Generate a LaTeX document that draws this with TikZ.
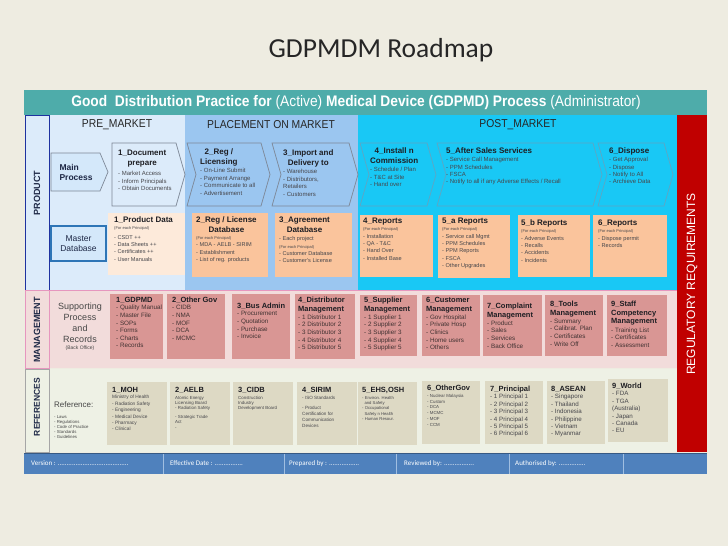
\documentclass[tikz,border=0pt]{standalone}
\usepackage{fontspec}
\setmainfont{Liberation Sans}
\newfontfamily\narrowfont[FakeStretch=0.9]{Liberation Sans}
\newfontfamily\calibfont{Carlito}
\usetikzlibrary{positioning}

\definecolor{slidebg}{RGB}{238,236,225}
\definecolor{hdteal}{RGB}{78,172,170}
\definecolor{prebg}{RGB}{220,235,250}
\definecolor{placebg}{RGB}{155,198,240}
\definecolor{postbg}{RGB}{25,200,245}
\definecolor{regred}{RGB}{192,0,0}
\definecolor{mgmtbg}{RGB}{242,220,219}
\definecolor{mgmtbox}{RGB}{217,150,148}
\definecolor{mgmtline}{RGB}{230,150,190}
\definecolor{refbg}{RGB}{238,241,229}
\definecolor{refboxbg}{RGB}{221,217,196}
\definecolor{peach}{RGB}{250,196,156}
\definecolor{palepeach}{RGB}{253,234,218}
\definecolor{footblue}{RGB}{79,129,189}
\definecolor{footline}{RGB}{160,190,225}
\definecolor{chevgrey}{RGB}{125,135,150}
\definecolor{postline}{RGB}{95,165,195}
\definecolor{mainfill}{RGB}{212,232,250}
\definecolor{dbline}{RGB}{46,117,182}
\definecolor{prodline}{RGB}{30,50,160}
\definecolor{navytext}{RGB}{30,40,70}
\definecolor{titletext}{RGB}{30,30,35}
\definecolor{itemgrey}{RGB}{70,70,75}
\definecolor{mgtext}{RGB}{65,50,50}
\definecolor{suptext}{RGB}{70,70,70}

\tikzset{
  chev/.style = {draw=chevgrey, line width=0.7pt},
  panel/.style = {anchor=north west, inner sep=0pt, outer sep=0pt, draw=none},
  txt/.style = {anchor=north west, align=left, inner sep=0pt, text=itemgrey},
  item/.style = {txt, font=\fontsize{6}{7.4}\selectfont},
  dbitem/.style = {txt, font=\fontsize{5.6}{7.4}\selectfont},
  mgitem/.style = {txt, font=\fontsize{6.3}{7.6}\selectfont, text=mgtext},
  refitem/.style = {txt, font=\fontsize{4.4}{5.3}\selectfont},
  bigref/.style = {txt, font=\fontsize{6.2}{7.4}\selectfont},
  phase/.style = {font=\narrowfont\fontsize{11.5}{12}\selectfont, text=black!85},
  sidelbl/.style = {rotate=90, font=\bfseries\fontsize{9}{9}\selectfont, text=navytext},
  foot/.style = {anchor=west, inner sep=0pt, font=\calibfont\fontsize{7}{7}\selectfont, text=white}
}

\newcommand\ttl[1]{{\fontsize{8}{10.2}\selectfont\bfseries\color{titletext}\begin{tabular}{@{}c@{}}#1\end{tabular}}}
\newcommand\mttl[1]{{\fontsize{7.5}{8.8}\selectfont\bfseries\color{titletext}\begin{tabular}{@{}l@{}}#1\end{tabular}}}
\newcommand\rttl[1]{{\fontsize{7.5}{9}\selectfont\bfseries\color{titletext}\begin{tabular}{@{}l@{}}#1\end{tabular}}}
\newcommand\fep{{\fontsize{4}{5}\selectfont(For each Principal)}}

\begin{document}
\begin{tikzpicture}[x=1pt, y=-1pt]
	\def\ct{143}   % chevron top
	\def\cb{206}   % chevron bottom
	\def\cm{174.5} % chevron middle

	\useasboundingbox (0,0) rectangle (728,546);
	\fill[slidebg] (0,0) rectangle (728,546);

	% Title
	\node[font=\calibfont\fontsize{27.5}{28}\selectfont, text=black!85] (title) at (381,50) {GDPMDM Roadmap};

	% Header bar
	\fill[hdteal] (24,90) rectangle (707,115);
	\node[font=\narrowfont\fontsize{15.3}{16}\selectfont, text=white] (header) at (356,102.5)
		{\textbf{Good\ \ Distribution Practice for} (Active) \textbf{Medical Device (GDPMD) Process} (Administrator)};

	% Phase bands
	\fill[prebg]   (49,115)  rectangle (185,290);
	\fill[placebg] (185,115) rectangle (358,290);
	\fill[postbg]  (358,115) rectangle (677,290);
	\node[phase] (pre)   at (117,125) {PRE\_MARKET};
	\node[phase] (place) at (271,125) {PLACEMENT ON MARKET};
	\node[phase] (post)  at (518,125) {POST\_MARKET};

	% Regulatory bar
	\fill[regred] (677,115) rectangle (707,452);
	\node[rotate=90, font=\fontsize{12}{12}\selectfont, text=white] (regreq) at (692,284) {REGULATORY REQUIREMENTS};

	% Row frames
	\draw[prodline, fill=prebg, line width=1pt] (25,115) rectangle (49,290);
	\fill[mgmtbg] (25,290) rectangle (677,368);
	\draw[mgmtline, line width=0.8pt] (25,290) -- (677,290);
	\draw[mgmtline, fill=mgmtbg, line width=0.8pt] (25,290) rectangle (49,368);
	\fill[refbg] (25,369) rectangle (677,452);
	\draw[gray!70, line width=0.8pt] (25,369) rectangle (49,452);
	\node[sidelbl] (prodlbl) at (37,193) {PRODUCT};
	\node[sidelbl] (mgmtlbl) at (37,330) {MANAGEMENT};
	\node[sidelbl, font=\bfseries\fontsize{8.5}{9}\selectfont] (reflbl) at (37,407) {REFERENCES};

	% Main process
	\draw[chev, fill=mainfill] (51,153) -- (100,153) -- (108,172) -- (100,191) -- (51,191) -- cycle;
	\node[anchor=west, align=left, font=\bfseries\fontsize{8.5}{10}\selectfont, text=navytext] (mainproc) at (56,172) {Main\\Process};

	\draw[chev, fill=prebg] (112,\ct) -- (176,\ct) -- (185,\cm) -- (176,\cb) -- (112,\cb) -- cycle;
	\node[item] (docprep) at (118,148) {\ttl{1\_Document\\prepare}\\[2pt]- Market Access\\- Inform Principals\\- Obtain Documents};

	\draw[chev, fill=placebg] (187,\ct) -- (261,\ct) -- (270,\cm) -- (261,\cb) -- (187,\cb) -- (196,\cm) -- cycle;
	\node[item] (reglic) at (200,147) {\ttl{2\_Reg /\\Licensing}\\- On-Line Submit\\- Payment Arrange\\- Communicate to all\\- Advertisement};

	\draw[chev, fill=placebg] (272,\ct) -- (349,\ct) -- (358,\cm) -- (349,\cb) -- (272,\cb) -- (281,\cm) -- cycle;
	\node[item] (import) at (283,148) {\ttl{3\_Import and\\Delivery to}\\- Warehouse\\- Distributors,\\Retailers\\- Customers};

	\draw[chev, draw=postline, fill=postbg] (360,\ct) -- (427,\ct) -- (436,\cm) -- (427,\cb) -- (360,\cb) -- (369,\cm) -- cycle;
	\node[item] (install) at (370,146) {\ttl{4\_Install n\\Commission}\\- Schedule / Plan\\- T\&C at Site\\- Hand over};

	\draw[chev, draw=postline, fill=postbg] (437,\ct) -- (593,\ct) -- (602,\cm) -- (593,\cb) -- (437,\cb) -- (446,\cm) -- cycle;
	\node[item] (aftersales) at (446,146) {\ttl{5\_After Sales Services}\\- Service Call Management\\- PPM Schedules\\- FSCA\\- Notify to all if any Adverse Effects / Recall};

	\draw[chev, draw=postline, fill=postbg] (598,\ct) -- (664,\ct) -- (673,\cm) -- (664,\cb) -- (598,\cb) -- (607,\cm) -- cycle;
	\node[item] (dispose) at (609,146) {\ttl{6\_Dispose}\\- Get Approval\\- Dispose\\- Notify to All\\- Archieve Data};

	% Master database
	\node[panel, draw=dbline, line width=1.5pt, fill=mainfill, minimum width=55pt, minimum height=35pt,
		align=center, font=\fontsize{8.5}{10}\selectfont, text=navytext] (masterdb) at (51,226) {Master\\Database};

	\node[panel, fill=palepeach, minimum width=77pt, minimum height=62pt] (proddata) at (108,213) {};
	\node[dbitem] (proddataT) at (114,215) {\ttl{1\_Product Data}\\\fep\\[2pt]- CSDT ++\\- Data Sheets ++\\- Certificates ++\\- User Manuals};

	\node[panel, fill=peach, minimum width=76pt, minimum height=64pt] (regdb) at (192,213) {};
	\node[dbitem] (regdbT) at (196,215) {\ttl{2\_Reg / License\\Database}\\\fep\\- MDA - AELB - SIRIM\\- Establishment\\- List of reg. products};

	\node[panel, fill=peach, minimum width=77pt, minimum height=64pt] (agrdb) at (275,213) {};
	\node[dbitem] (agrdbT) at (279,215) {\ttl{3\_Agreement\\Database}\\- Each project\\\fep\\- Customer Database\\- Customer's License};

	\node[panel, fill=peach, minimum width=73pt, minimum height=62pt] (rep4) at (360,215) {};
	\node[dbitem] (rep4T) at (363,216) {\ttl{4\_Reports}\\\fep\\- Installation\\- QA - T\&C\\- Hand Over\\- Installed Base};

	\node[panel, fill=peach, minimum width=72pt, minimum height=63pt] (rep5a) at (438,215) {};
	\node[dbitem] (rep5aT) at (442,216) {\ttl{5\_a Reports}\\\fep\\- Service call Mgmt\\- PPM Schedules\\- PPM Reports\\- FSCA\\- Other Upgrades};

	\node[panel, fill=peach, minimum width=72pt, minimum height=62pt] (rep5b) at (518,215) {};
	\node[dbitem] (rep5bT) at (521,218) {\ttl{5\_b Reports}\\\fep\\- Adverse Events\\- Recalls\\- Accidents\\- Incidents};

	\node[panel, fill=peach, minimum width=74pt, minimum height=62pt] (rep6) at (593,215) {};
	\node[dbitem] (rep6T) at (598,218) {\ttl{6\_Reports}\\\fep\\- Dispose permit\\- Records};

	% Management
	\node[align=center, anchor=north, inner sep=0pt, font=\fontsize{9}{11}\selectfont, text=suptext] (support) at (80,303)
		{Supporting\\Process\\and\\Records\\[-4pt]{\fontsize{5}{6}\selectfont(Back Office)}};

	\node[panel, fill=mgmtbox, minimum width=53pt, minimum height=65pt] (gdpmd) at (110,294) {};
	\node[mgitem] (gdpmdT) at (116,296) {\mttl{1\_GDPMD}\\- Quality Manual\\- Master File\\- SOPs\\- Forms\\- Charts\\- Records};

	\node[panel, fill=mgmtbox, minimum width=58pt, minimum height=65pt] (othgov) at (167,294) {};
	\node[mgitem] (othgovT) at (172,296) {\mttl{2\_Other Gov}\\- CIDB\\- NMA\\- MOF\\- DCA\\- MCMC};

	\node[panel, fill=mgmtbox, minimum width=58pt, minimum height=65pt] (busadmin) at (232,294) {};
	\node[mgitem] (busadminT) at (237,302) {\mttl{3\_Bus Admin}\\- Procurement\\- Quotation\\- Purchase\\- Invoice};

	\node[panel, fill=mgmtbox, minimum width=60pt, minimum height=65pt] (distmgmt) at (295,294) {};
	\node[mgitem] (distmgmtT) at (298,296) {\mttl{4\_Distributor\\Management}\\- 1 Distributor 1\\- 2 Distributor 2\\- 3 Distributor 3\\- 4 Distributor 4\\- 5 Distributor 5};

	\node[panel, fill=mgmtbox, minimum width=57pt, minimum height=61pt] (suppmgmt) at (360,295) {};
	\node[mgitem] (suppmgmtT) at (364,296) {\mttl{5\_Supplier\\Management}\\- 1 Supplier 1\\- 2 Supplier 2\\- 3 Supplier 3\\- 4 Supplier 4\\- 5 Supplier 5};

	\node[panel, fill=mgmtbox, minimum width=58pt, minimum height=61pt] (custmgmt) at (422,295) {};
	\node[mgitem] (custmgmtT) at (426,296) {\mttl{6\_Customer\\Management}\\- Gov Hospital\\- Private Hosp\\- Clinics\\- Home users\\- Others};

	\node[panel, fill=mgmtbox, minimum width=59pt, minimum height=61pt] (compmgmt) at (483,295) {};
	\node[mgitem] (compmgmtT) at (487,302) {\mttl{7\_Complaint\\Management}\\- Product\\- Sales\\- Services\\- Back Office};

	\node[panel, fill=mgmtbox, minimum width=58pt, minimum height=61pt] (toolmgmt) at (545,295) {};
	\node[mgitem] (toolmgmtT) at (550,300) {\mttl{8\_Tools\\Management}\\- Summary\\- Calibrat. Plan\\- Certificates\\- Write Off};

	\node[panel, fill=mgmtbox, minimum width=60pt, minimum height=61pt] (staffmgmt) at (607,295) {};
	\node[mgitem] (staffmgmtT) at (611,300) {\mttl{9\_Staff\\Competency\\Management}\\- Training List\\- Certificates\\- Assessment};

	% References
	\node[txt, font=\fontsize{8}{10}\selectfont, text=suptext] (refhd) at (54,402) {Reference:};
	\node[txt, font=\fontsize{4.3}{5.1}\selectfont, text=suptext] (reflist) at (54,415) {- Laws\\- Regulations\\- Code of Practice\\- Standards\\- Guidelines};

	\node[panel, fill=refboxbg, minimum width=60pt, minimum height=63pt] (moh) at (107,382) {};
	\node[refitem, font=\fontsize{4.8}{6.4}\selectfont] (mohT) at (112,386) {\rttl{1\_MOH}\\Ministry of Health\\- Radiation Safety\\- Engineering\\- Medical Device\\- Pharmacy\\- Clinical};

	\node[panel, fill=refboxbg, minimum width=60pt, minimum height=63pt] (aelb) at (170,382) {};
	\node[refitem] (aelbT) at (175,386) {\rttl{2\_AELB}\\Atomic Energy\\Licensing Board\\- Radiation Safety\\[3pt]- Strategic Trade\\Act\\[1pt]-};

	\node[panel, fill=refboxbg, minimum width=60pt, minimum height=63pt] (cidb) at (233,382) {};
	\node[refitem] (cidbT) at (238,386) {\rttl{3\_CIDB}\\Construction\\Industry\\Development Board};

	\node[panel, fill=refboxbg, minimum width=60pt, minimum height=63pt] (sirim) at (297,382) {};
	\node[refitem, font=\fontsize{4.6}{5.5}\selectfont] (sirimT) at (302,386) {\rttl{4\_SIRIM}\\- ISO Standards\\[4pt]- Product\\[1pt]Certification for\\Communication\\[1pt]Devices};

	\node[panel, fill=refboxbg, minimum width=59pt, minimum height=63pt] (ehs) at (358,382) {};
	\node[refitem, font=\fontsize{4.2}{5.3}\selectfont] (ehsT) at (362,386) {\rttl{5\_EHS,OSH}\\- Environ. Health\\\ \ and Safety\\- Occupational\\\ \ Safety n Health\\- Human Resour.};

	\node[panel, fill=refboxbg, minimum width=58pt, minimum height=63pt] (othgovref) at (422,381) {};
	\node[refitem, font=\fontsize{4.4}{5.8}\selectfont] (othgovrefT) at (427,384) {\rttl{6\_OtherGov}\\- Nuclear Malaysia\\- Custom\\- DCA\\- MCMC\\- MOF\\- CCM};

	\node[panel, fill=refboxbg, minimum width=58pt, minimum height=63pt] (principal) at (485,381) {};
	\node[bigref] (principalT) at (490,385) {\rttl{7\_Principal}\\- 1 Principal 1\\- 2 Principal 2\\- 3 Principal 3\\- 4 Principal 4\\- 5 Principal 5\\- 6 Principal 6};

	\node[panel, fill=refboxbg, minimum width=58pt, minimum height=63pt] (asean) at (547,381) {};
	\node[bigref] (aseanT) at (551,385) {\rttl{8\_ASEAN}\\- Singapore\\- Thailand\\- Indonesia\\- Philippine\\- Vietnam\\- Myanmar};

	\node[panel, fill=refboxbg, minimum width=60pt, minimum height=63pt] (world) at (608,379) {};
	\node[bigref] (worldT) at (612,382) {\rttl{9\_World}\\- FDA\\- TGA\\(Australia)\\- Japan\\- Canada\\- EU};

	% Footer
	\fill[footblue] (24,453) rectangle (707,474);
	\draw[footline] (163,453) -- (163,474);
	\draw[footline] (284,453) -- (284,474);
	\draw[footline] (396,453) -- (396,474);
	\draw[footline] (509,453) -- (509,474);
	\draw[footline] (623,453) -- (623,474);
	\draw[footblue!70!black] (24,453) -- (707,453);
	\node[foot] (version)    at (31,463.5)  {Version : ........................................};
	\node[foot] (effdate)    at (170,463.5) {Effective Date : ................};
	\node[foot] (prepared)   at (289,463.5) {Prepared by : .................};
	\node[foot] (reviewed)   at (404,463.5) {Reviewed by: .................};
	\node[foot] (authorised) at (515,463.5) {Authorised by: ...............};
\end{tikzpicture}
\end{document}
